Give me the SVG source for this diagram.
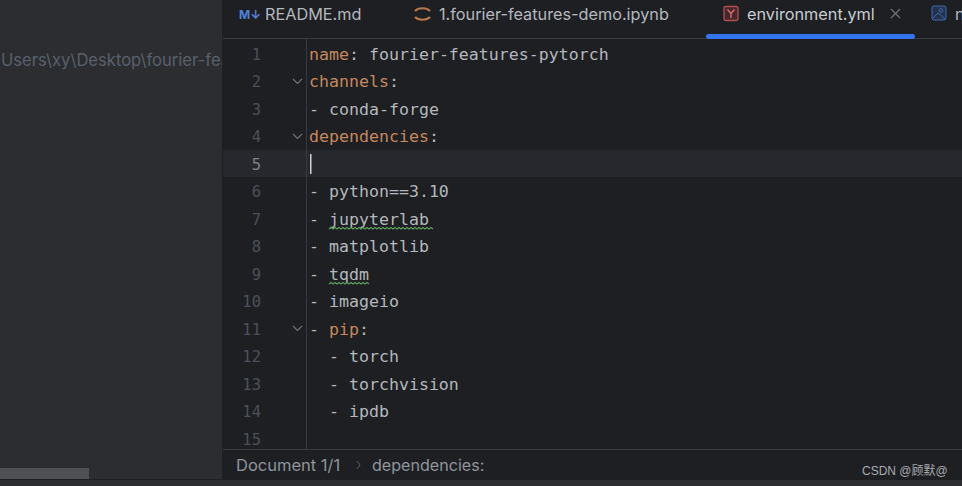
<svg xmlns="http://www.w3.org/2000/svg" width="962" height="486" viewBox="0 0 962 486">
<style>
text{white-space:pre}
.ui{font-family:"Inter","Liberation Sans",sans-serif}
.tab{font-size:16.250px;fill:#b4b8bf}
.m{font-family:"DejaVu Sans Mono","Liberation Mono",monospace;font-size:16.6px;fill:#b4b7bd}
.k{fill:#c4875f}
.n{font-family:"DejaVu Sans Mono","Liberation Mono",monospace;font-size:15.5px;fill:#4b5059;text-anchor:end}
.f{fill:none;stroke:#6f737a;stroke-width:1.1}
.w{fill:none;stroke:#5fa05f;stroke-width:1.1}
</style>
<rect width="962" height="486" fill="#1e1f22"/>
<g id="sidebar">
<rect width="222" height="486" fill="#2b2d30"/>
<text class="ui" x="1" y="66" font-size="16.600" fill="#59606b">Users\xy\Desktop\fourier-fea</text>
<rect x="222" width="740" height="486" fill="#1e1f22"/>
<rect x="0" y="468" width="89" height="11" fill="#4e5054"/>
</g>
<g id="tabs">
<line x1="223" y1="38.500" x2="962" y2="38.500" stroke="#393b40"/>
<text x="239" y="19" font-family="Inter,'Liberation Sans',sans-serif" font-size="12" font-weight="700" fill="#4f82d6">M↓</text>
<text class="ui tab" x="265" y="20">README.md</text>
<path d="M415 11a8.500 5 0 0 1 15 0M415 17a8.500 5 0 0 0 15 0" fill="none" stroke="#b8794f" stroke-width="2"/>
<text class="ui tab" x="439" y="20">1.fourier-features-demo.ipynb</text>
<rect x="724" y="6.500" width="14" height="14" rx="2" fill="#45282b" stroke="#b04e52" stroke-width="1.300"/>
<path d="M727.500 9.500l3.500 4 3.500-4M731 13.500v4.500" fill="none" stroke="#e0686c" stroke-width="1.400"/>
<text class="ui tab" x="747" y="20" style="fill:#c8ccd2">environment.yml</text>
<path d="M891 9l9 9M900 9l-9 9" stroke="#6f737a" stroke-width="1.200" fill="none"/>
<rect x="706" y="34" width="209" height="5" rx="2.500" fill="#3574f0"/>
<rect x="932" y="6" width="14" height="14" rx="2" fill="#25324d" stroke="#3f68b0"/>
<path d="M933 18l5-5 7 6" fill="none" stroke="#3f68b0"/><circle cx="941" cy="10.500" r="1.800" fill="none" stroke="#3f68b0"/>
<text class="ui tab" x="955" y="20">n</text>
</g>
<g id="editor">
<rect x="223" y="150" width="739" height="27" fill="#26282e"/>
<line x1="306.500" y1="39" x2="306.500" y2="449" stroke="#393b40"/>
<rect x="310" y="154" width="1.500" height="20" fill="#ced0d6"/>
<g>
<text class="n" x="261" y="60">1</text><text class="n" x="261" y="87">2</text><text class="n" x="261" y="115">3</text><text class="n" x="261" y="142">4</text><text class="n" x="261" y="170" style="fill:#7d8088">5</text><text class="n" x="261" y="197">6</text><text class="n" x="261" y="225">7</text><text class="n" x="261" y="252">8</text><text class="n" x="261" y="280">9</text><text class="n" x="261" y="307">10</text><text class="n" x="261" y="335">11</text><text class="n" x="261" y="362">12</text><text class="n" x="261" y="390">13</text><text class="n" x="261" y="417">14</text><text class="n" x="261" y="445">15</text>
</g>
<path class="f" d="M293 79l4.500 4.500 4.500-4.500M293 134l4.500 4.500 4.500-4.500M293 326l4.500 4.500 4.500-4.500"/>
<text class="m" x="309" y="60"><tspan class="k">name</tspan>: fourier-features-pytorch</text>
<text class="m" x="309" y="87"><tspan class="k">channels</tspan>:</text>
<text class="m" x="309" y="115">- conda-forge</text>
<text class="m" x="309" y="142"><tspan class="k">dependencies</tspan>:</text>
<text class="m" x="309" y="197">- python==3.10</text>
<text class="m" x="309" y="225">- jupyterlab</text>
<text class="m" x="309" y="252">- matplotlib</text>
<text class="m" x="309" y="280">- tqdm</text>
<text class="m" x="309" y="307">- imageio</text>
<text class="m" x="309" y="335">- <tspan class="k">pip</tspan>:</text>
<text class="m" x="309" y="362">  - torch</text>
<text class="m" x="309" y="390">  - torchvision</text>
<text class="m" x="309" y="417">  - ipdb</text>
<path class="w" d="M329 229l2-1.500 2 1.500 2-1.500 2 1.500 2-1.500 2 1.500 2-1.500 2 1.500 2-1.500 2 1.500 2-1.500 2 1.500 2-1.500 2 1.500 2-1.500 2 1.500 2-1.500 2 1.500 2-1.500 2 1.500 2-1.500 2 1.500 2-1.500 2 1.500 2-1.500 2 1.500 2-1.500 2 1.500 2-1.500 2 1.500 2-1.500 2 1.500 2-1.500 2 1.500 2-1.500 2 1.500 2-1.500 2 1.500 2-1.500 2 1.500 2-1.500 2 1.500 2-1.500 2 1.500 2-1.500 2 1.500 2-1.500 2 1.500 2-1.500 2 1.500 2-1.500 2 1.500"/>
<path class="w" d="M329 284l2-1.500 2 1.500 2-1.500 2 1.500 2-1.500 2 1.500 2-1.500 2 1.500 2-1.500 2 1.500 2-1.500 2 1.500 2-1.500 2 1.500 2-1.500 2 1.500 2-1.500 2 1.500 2-1.500 2 1.500"/>
</g>
<g id="statusbar">
<line x1="223" y1="449.500" x2="962" y2="449.500" stroke="#393b40"/>
<text class="ui" x="236" y="471" font-size="16.500" fill="#8f949c">Document 1/1</text>
<path d="M357 461l3 4-3 4" fill="none" stroke="#5a5e65"/>
<text class="ui" x="372" y="471" font-size="16.100" fill="#8f949c">dependencies:</text>
<rect x="0" y="479" width="962" height="7" fill="#2b2d30"/>
<line x1="0" y1="479.500" x2="962" y2="479.500" stroke="#1e1f22"/>
<text x="862" y="475" font-family="'Liberation Sans','Noto Sans CJK SC',sans-serif" font-size="12" fill="#a8aaad">CSDN @顾默@</text>
</g>
</svg>
